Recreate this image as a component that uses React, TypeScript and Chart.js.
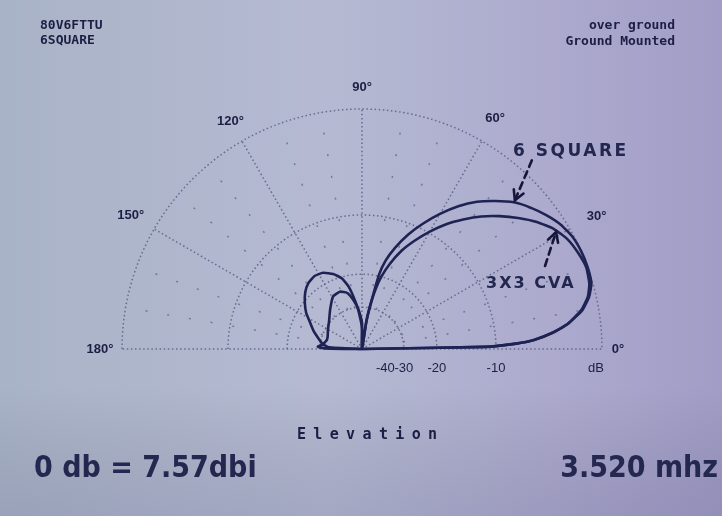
import React, { useEffect, useRef } from "react";
import { Chart, registerables } from "chart.js";

Chart.register(...registerables);

// ---------------- data ----------------
const seriesNames = ["6 SQUARE", "3X3 CVA"];

const sixSquareAngles = [0, 1, 2, 3, 5, 7, 10, 13, 16, 20, 24, 28, 32, 36, 40, 44, 48, 52, 56, 60, 64, 68, 72, 75, 77, 79, 81, 84, 90, 95, 98, 102, 106, 111, 117, 123, 129, 135, 141, 147, 153, 160, 167, 173, 177, 180];
const sixSquareDb = [-60, -11.5, -7.6, -5.7, -3.8, -2.5, -1.2, -0.5, -0.1, 0, 0, -0.1, -0.4, -0.9, -1.5, -2.2, -3.2, -4.3, -5.7, -7.4, -9.3, -11.4, -14.0, -16.5, -19.5, -28, -38, -60, -42, -32, -27.5, -22.8, -20.3, -18.8, -17.7, -17.4, -17.8, -18.8, -20.3, -22, -24.3, -26.5, -29, -31, -34, -60];

const cvaAngles = [0, 1, 2, 3, 5, 7, 10, 13, 16, 20, 24, 28, 32, 36, 40, 44, 48, 52, 56, 60, 64, 68, 72, 75, 77, 79, 81, 83, 90, 95, 100, 105, 111, 119, 129, 140, 151, 160, 166, 171, 174, 177, 179, 180];
const cvaDb = [-60, -11.5, -7.6, -5.7, -3.8, -2.5, -1.3, -0.6, -0.25, -0.1, -0.25, -0.5, -1.0, -1.8, -2.8, -3.9, -5.1, -6.5, -8.0, -9.8, -11.8, -14.0, -17.0, -20.0, -23.0, -28, -36, -60, -38, -31, -27, -24.3, -23.4, -23.8, -26.7, -29.5, -31.2, -32.3, -32.4, -31.5, -30.6, -29, -32, -60];

const ringDbValues = [0, -10, -20, -30];
const scaleTickDb = [-40, -30, -20, -10, 0];
const scaleTickLabels = ["-40", "-30", "-20", "-10", "dB"];
const angleTicks = [0, 30, 60, 90, 120, 150, 180];
const angleTickLabels = ["0°", "30°", "60°", "90°", "120°", "150°", "180°"];
const minorSpokes = [10, 20, 40, 50, 70, 80, 100, 110, 130, 140, 160, 170];
const annotationAngles = [44, 32];

const headerLeft = ["80V6FTTU", "6SQUARE"];
const headerRight = ["over ground", "Ground Mounted"];
const axisTitle = "Elevation";
const footerLeft = "0 db = 7.57dbi";
const footerRight = "3.520 mhz";

// ---------------- helpers ----------------
const ARRL_STEP = 0.89; // ARRL log scale: 0.89 per 2 dB
function radiusOf(db: number): number {
  if (db <= -55) return 0;
  return Math.pow(ARRL_STEP, -db / 2);
}
function toXY(angles: number[], dbs: number[]) {
  return angles.map((a, i) => {
    const r = radiusOf(dbs[i]);
    const t = (a * Math.PI) / 180;
    return { x: r * Math.cos(t), y: r * Math.sin(t) };
  });
}

const INK = "#1c1e44";
const CURVE = "#1f2354";
const GRID = "rgba(88,94,132,0.85)";
// radial gap (px) between outer ring and each angle label
const LABEL_GAP = [16, 31, 26, 22, 23, 27, 22];

const bgPlugin = {
  id: "photoBg",
  beforeDraw(chart: any) {
    const { ctx, width, height } = chart;
    ctx.save();
    const g = ctx.createLinearGradient(0, 0, width, 0);
    g.addColorStop(0, "#a9b3c7");
    g.addColorStop(0.45, "#b5bad2");
    g.addColorStop(0.8, "#aba8cd");
    g.addColorStop(1, "#a19dc6");
    ctx.fillStyle = g;
    ctx.fillRect(0, 0, width, height);
    const v = ctx.createLinearGradient(0, 0, 0, height);
    v.addColorStop(0, "rgba(0,0,0,0)");
    v.addColorStop(0.75, "rgba(0,0,0,0)");
    v.addColorStop(1, "rgba(40,40,90,0.12)");
    ctx.fillStyle = v;
    ctx.fillRect(0, 0, width, height);
    ctx.restore();
  },
};

function geom(chart: any) {
  const xs = chart.scales.x;
  const ys = chart.scales.y;
  const cx = xs.getPixelForValue(0);
  const cy = ys.getPixelForValue(0);
  const R = xs.getPixelForValue(1) - cx;
  return { cx, cy, R };
}

const gridPlugin = {
  id: "polarGrid",
  beforeDatasetsDraw(chart: any) {
    const { ctx } = chart;
    const { cx, cy, R } = geom(chart);
    ctx.save();
    ctx.strokeStyle = GRID;
    ctx.lineWidth = 1.5;
    ctx.setLineDash([1.5, 2.6]);
    ringDbValues.forEach((db) => {
      const r = R * radiusOf(db);
      ctx.beginPath();
      ctx.arc(cx, cy, r, Math.PI, 2 * Math.PI);
      ctx.stroke();
    });
    angleTicks.forEach((a) => {
      const t = (a * Math.PI) / 180;
      ctx.beginPath();
      ctx.moveTo(cx, cy);
      ctx.lineTo(cx + R * Math.cos(t), cy - R * Math.sin(t));
      ctx.stroke();
    });
    ctx.setLineDash([2, 20]);
    ctx.strokeStyle = "rgba(88,94,132,0.7)";
    minorSpokes.forEach((a) => {
      const t = (a * Math.PI) / 180;
      const r0 = R * radiusOf(-30);
      ctx.beginPath();
      ctx.moveTo(cx + r0 * Math.cos(t), cy - r0 * Math.sin(t));
      ctx.lineTo(cx + R * Math.cos(t), cy - R * Math.sin(t));
      ctx.stroke();
    });
    ctx.restore();
  },
};

function drawArrow(ctx: any, x0: number, y0: number, x1: number, y1: number) {
  ctx.save();
  ctx.strokeStyle = "#15163a";
  ctx.lineWidth = 2.6;
  ctx.lineCap = "round";
  ctx.setLineDash([7, 5]);
  ctx.beginPath();
  ctx.moveTo(x0, y0);
  ctx.lineTo(x1, y1);
  ctx.stroke();
  ctx.setLineDash([]);
  const ang = Math.atan2(y0 - y1, x0 - x1);
  const L = 11;
  ctx.beginPath();
  ctx.moveTo(x1 + L * Math.cos(ang + 0.5), y1 + L * Math.sin(ang + 0.5));
  ctx.lineTo(x1, y1);
  ctx.lineTo(x1 + L * Math.cos(ang - 0.5), y1 + L * Math.sin(ang - 0.5));
  ctx.stroke();
  ctx.restore();
}

const labelPlugin = {
  id: "labels",
  afterDatasetsDraw(chart: any) {
    const { ctx } = chart;
    const { cx, cy, R } = geom(chart);
    ctx.save();
    ctx.fillStyle = INK;

    // angle labels
    ctx.font = "bold 13px 'Liberation Sans', Arial, sans-serif";
    ctx.textAlign = "center";
    ctx.textBaseline = "middle";
    angleTicks.forEach((a, i) => {
      const t = (a * Math.PI) / 180;
      const r = R + LABEL_GAP[i];
      ctx.fillText(angleTickLabels[i], cx + r * Math.cos(t), cy - r * Math.sin(t) + (a === 30 ? 3 : 0));
    });

    // dB scale labels
    ctx.font = "13px 'Liberation Sans', Arial, sans-serif";
    scaleTickDb.forEach((db, i) => {
      const x = cx + R * radiusOf(db) - (db === 0 ? 6 : 0);
      ctx.fillText(scaleTickLabels[i], x, cy + 19);
    });

    // series annotations with arrows
    const tips = annotationAngles.map((ang, si) => {
      const angles = si === 0 ? sixSquareAngles : cvaAngles;
      const idx = angles.indexOf(ang);
      const el = chart.getDatasetMeta(si).data[idx];
      return { x: el.x, y: el.y };
    });
    drawArrow(ctx, tips[0].x + 18, tips[0].y - 42, tips[0].x + 1, tips[0].y - 2);
    drawArrow(ctx, tips[1].x - 9, tips[1].y + 37, tips[1].x + 2, tips[1].y + 3);

    ctx.fillStyle = "#23264f";
    ctx.textAlign = "left";
    ctx.textBaseline = "alphabetic";
    ctx.font = "bold 17px 'DejaVu Sans', sans-serif";
    (ctx as any).letterSpacing = "2.5px";
    ctx.fillText(seriesNames[0], 513, 156);
    (ctx as any).letterSpacing = "2px";
    ctx.font = "bold 16px 'DejaVu Sans', sans-serif";
    ctx.fillText(seriesNames[1], 486, 288);
    (ctx as any).letterSpacing = "0px";

    // header texts
    ctx.fillStyle = INK;
    ctx.font = "bold 13px 'DejaVu Sans Mono', monospace";
    ctx.textAlign = "left";
    ctx.fillText(headerLeft[0], 40, 29);
    ctx.fillText(headerLeft[1], 40, 44);
    ctx.textAlign = "right";
    ctx.fillText(headerRight[0], 675, 29);
    ctx.fillText(headerRight[1], 675, 45);

    // axis title, letter-spaced
    ctx.font = "bold 15px 'DejaVu Sans Mono', monospace";
    ctx.textAlign = "center";
    const step = 16.4;
    const startX = 367 - (step * (axisTitle.length - 1)) / 2;
    for (let i = 0; i < axisTitle.length; i++) {
      ctx.fillText(axisTitle[i], startX + i * step, 439);
    }

    // footer texts
    ctx.fillStyle = "#24274f";
    ctx.font = "bold 30px 'DejaVu Sans Condensed', 'Liberation Sans', sans-serif";
    ctx.textAlign = "left";
    ctx.fillText(footerLeft, 34, 477);
    ctx.textAlign = "right";
    ctx.fillText(footerRight, 718, 477);
    ctx.restore();
  },
};

export default function App() {
  const ref = useRef<HTMLCanvasElement | null>(null);
  useEffect(() => {
    document.body.style.margin = "0";
    const canvas = ref.current;
    if (!canvas) return;
    const chart = new Chart(canvas, {
      type: "scatter",
      data: {
        datasets: [
          {
            label: seriesNames[0],
            data: toXY(sixSquareAngles, sixSquareDb),
            showLine: true,
            borderColor: CURVE,
            borderWidth: 2.6,
            pointRadius: 0,
            tension: 0.15,
            clip: false,
          } as any,
          {
            label: seriesNames[1],
            data: toXY(cvaAngles, cvaDb),
            showLine: true,
            borderColor: CURVE,
            borderWidth: 2.6,
            pointRadius: 0,
            tension: 0.15,
            clip: false,
          } as any,
        ],
      },
      options: {
        responsive: false,
        animation: false,
        devicePixelRatio: 1,
        events: [],
        layout: { padding: { left: 122, right: 120, top: 109, bottom: 167 } },
        scales: {
          x: { type: "linear", min: -1, max: 1, display: false },
          y: { type: "linear", min: 0, max: 1, display: false },
        },
        plugins: { legend: { display: false }, tooltip: { enabled: false } },
      },
      plugins: [bgPlugin, gridPlugin, labelPlugin],
    });
    return () => chart.destroy();
  }, []);
  return (
    <div style={{ position: "fixed", left: 0, top: 0, width: 722, height: 516 }}>
      <canvas ref={ref} width={722} height={516} style={{ width: 722, height: 516, display: "block" }} />
    </div>
  );
}
